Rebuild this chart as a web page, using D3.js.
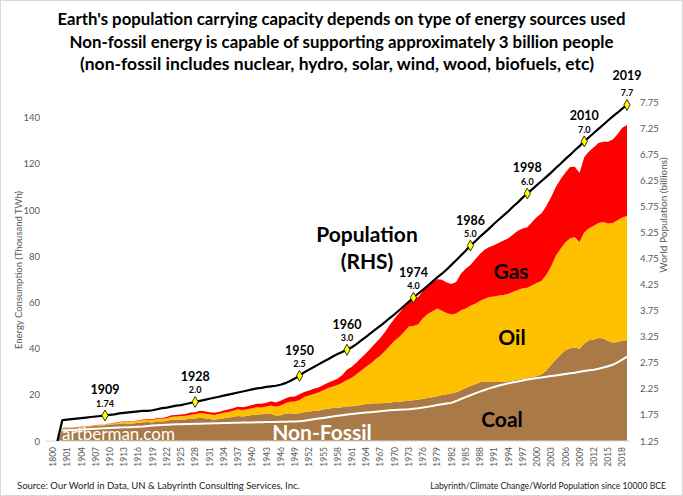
<!DOCTYPE html>
<html lang="en">
<head>
<meta charset="UTF-8">
<title>Population and energy</title>
<script src="https://cdn.jsdelivr.net/npm/d3@7"></script>
<style>
  body { margin: 0; background: #fff; }
  text { font-family: Lato, "Open Sans", sans-serif; }
</style>
</head>
<body>
<script>

// categories: 1800, 1850, then every year 1900-2019
var years = ["1800", "1850"].concat(d3.range(1900, 2020).map(String));

// world population, billions (right axis)
var population = [0.98, 1.26,
    1.65, 1.66, 1.67, 1.68, 1.69, 1.70, 1.71, 1.72, 1.73, 1.74,
    1.75, 1.76, 1.78, 1.79, 1.80, 1.81, 1.82, 1.83, 1.83, 1.84,
    1.86, 1.88, 1.89, 1.91, 1.93, 1.94, 1.96, 1.98, 2.00, 2.02,
    2.04, 2.06, 2.08, 2.10, 2.12, 2.14, 2.16, 2.18, 2.20, 2.22,
    2.24, 2.26, 2.27, 2.29, 2.30, 2.31, 2.33, 2.36, 2.40, 2.45,
    2.50, 2.57, 2.62, 2.67, 2.72, 2.77, 2.82, 2.87, 2.92, 2.96,
    3.00, 3.05, 3.11, 3.18, 3.25, 3.32, 3.39, 3.46, 3.53, 3.61,
    3.68, 3.76, 3.84, 3.92, 4.00, 4.08, 4.15, 4.23, 4.31, 4.39,
    4.46, 4.54, 4.63, 4.72, 4.81, 4.90, 5.00, 5.08, 5.17, 5.25,
    5.33, 5.42, 5.50, 5.58, 5.66, 5.75, 5.83, 5.92, 6.00, 6.08,
    6.16, 6.24, 6.32, 6.40, 6.49, 6.57, 6.66, 6.74, 6.83, 6.91,
    7.00, 7.08, 7.16, 7.24, 7.32, 7.40, 7.48, 7.55, 7.63, 7.70];

// stacked energy levels, thousand TWh (left axis) - top of each band
var nonFossilTop = [0, 0,
    4.6, 4.7, 4.8, 4.9, 5.0, 5.1, 5.2, 5.3, 5.4, 5.5,
    5.6, 5.7, 5.8, 5.9, 6.0, 6.1, 6.2, 6.3, 6.5, 6.7,
    6.8, 6.9, 7.0, 7.1, 7.2, 7.3, 7.4, 7.4, 7.5, 7.5,
    7.6, 7.6, 7.7, 7.7, 7.8, 7.8, 7.9, 7.9, 8.0, 8.0,
    8.0, 8.1, 8.1, 8.2, 8.2, 8.2, 8.3, 8.3, 8.4, 8.4,
    8.5, 8.8, 9.1, 9.4, 9.7, 10.0, 10.3, 10.6, 10.9, 11.2,
    11.5, 11.7, 11.9, 12.1, 12.3, 12.5, 12.7, 12.9, 13.1, 13.3,
    13.4, 13.5, 13.6, 13.7, 14.0, 14.2, 14.5, 14.8, 15.2, 15.6,
    15.9, 16.2, 16.5, 17.3, 18.2, 19.0, 19.8, 20.6, 21.4, 22.1,
    22.8, 23.4, 24.0, 24.5, 25.0, 25.4, 25.8, 26.2, 26.6, 27.0,
    27.3, 27.5, 27.8, 28.1, 28.4, 28.7, 29.0, 29.3, 29.6, 30.0,
    30.3, 30.6, 30.9, 31.3, 31.8, 32.4, 33.0, 34.0, 35.2, 36.5];

var coalTop = [0, 0,
    5.4, 5.5, 5.6, 5.8, 5.9, 6.1, 6.3, 6.6, 6.6, 6.8,
    7.1, 7.2, 7.4, 7.7, 7.5, 7.6, 7.9, 8.1, 8.2, 8.0,
    8.6, 8.4, 8.7, 9.3, 9.2, 9.3, 9.3, 9.7, 9.7, 10.1,
    9.8, 9.5, 9.2, 9.5, 9.9, 10.1, 10.5, 10.8, 10.6, 10.9,
    11.3, 11.5, 11.6, 11.8, 11.7, 11.0, 11.2, 11.8, 12.0, 11.8,
    12.0, 12.6, 12.8, 13.0, 13.2, 13.6, 14.0, 14.3, 14.4, 14.6,
    15.0, 15.0, 15.3, 15.7, 16.0, 16.2, 16.4, 16.4, 16.5, 16.7,
    16.9, 17.0, 17.2, 17.5, 17.6, 17.9, 18.3, 18.6, 18.9, 19.4,
    19.9, 20.2, 20.6, 21.1, 22.0, 23.0, 23.8, 24.6, 25.4, 25.8,
    25.8, 25.6, 25.6, 25.7, 25.9, 26.2, 26.6, 26.9, 27.3, 27.7,
    28.1, 28.9, 30.5, 32.9, 35.3, 37.4, 39.3, 40.2, 40.5, 39.9,
    42.2, 43.6, 44.0, 44.6, 44.4, 43.3, 42.6, 42.9, 43.4, 43.6];

var oilTop = [0, 0,
    5.6, 5.7, 5.8, 6.0, 6.1, 6.3, 6.5, 6.8, 6.9, 7.2,
    7.5, 7.7, 8.0, 8.4, 8.2, 8.4, 8.8, 9.1, 9.2, 9.0,
    9.7, 9.6, 9.9, 10.5, 10.6, 10.8, 10.9, 11.4, 11.6, 12.1,
    11.9, 11.6, 11.3, 11.7, 12.2, 12.6, 13.1, 13.6, 13.4, 13.8,
    14.2, 14.6, 14.5, 14.9, 15.4, 14.8, 15.4, 16.3, 17.0, 17.1,
    17.8, 19.0, 19.7, 20.4, 21.0, 22.0, 23.0, 23.6, 24.2, 25.2,
    26.4, 27.4, 28.9, 30.5, 32.1, 33.6, 35.4, 36.9, 39.0, 41.2,
    43.4, 45.0, 47.2, 49.6, 49.8, 50.6, 53.2, 55.0, 56.2, 57.4,
    56.4, 55.4, 54.8, 55.2, 56.6, 57.4, 58.6, 59.4, 60.6, 61.6,
    62.4, 62.6, 63.0, 63.2, 63.8, 64.6, 65.4, 66.2, 66.4, 67.4,
    68.4, 69.4, 72.0, 75.6, 80.2, 83.2, 86.0, 87.8, 88.2, 86.2,
    90.4, 92.1, 93.2, 94.4, 94.8, 94.2, 94.4, 95.6, 96.8, 97.4];

var gasTop = [0, 0,
    5.7, 5.8, 5.9, 6.1, 6.2, 6.4, 6.6, 6.9, 7.0, 7.3,
    7.6, 7.9, 8.2, 8.6, 8.4, 8.6, 9.0, 9.3, 9.5, 9.3,
    10.1, 10.0, 10.4, 11.1, 11.3, 11.5, 11.7, 12.3, 12.5, 13.1,
    12.9, 12.5, 12.2, 12.6, 13.2, 13.6, 14.2, 14.8, 14.6, 15.1,
    15.6, 16.1, 16.1, 16.6, 17.2, 16.7, 17.4, 18.4, 19.2, 19.3,
    20.2, 21.2, 21.9, 22.6, 23.2, 24.2, 25.2, 26.1, 27.0, 28.6,
    30.8, 32.2, 34.0, 36.0, 38.0, 40.2, 42.4, 44.6, 47.2, 50.2,
    53.0, 55.4, 58.0, 60.0, 61.6, 62.4, 65.0, 67.0, 68.6, 70.0,
    69.8, 68.6, 68.0, 68.8, 72.4, 74.6, 76.2, 78.6, 81.0, 82.8,
    84.0, 84.8, 85.8, 86.8, 87.8, 89.4, 91.0, 92.0, 92.6, 94.8,
    97.0, 98.6, 101.8, 105.6, 110.0, 113.4, 116.2, 118.6, 118.8, 116.2,
    123.0, 125.4, 127.2, 129.0, 129.6, 129.6, 130.6, 132.8, 135.6, 136.8];

// population milestones marked on the line
var milestoneYears = ["1909", "1928", "1950", "1960", "1974", "1986", "1998", "2010", "2019"];
var milestoneLabels = ["1.74", "2.0", "2.5", "3.0", "4.0", "5.0", "6.0", "7.0", "7.7"];

var leftTicks = [0, 20, 40, 60, 80, 100, 120, 140];
var rightTicks = [1.25, 1.75, 2.25, 2.75, 3.25, 3.75, 4.25, 4.75, 5.25, 5.75, 6.25, 6.75, 7.25, 7.75];

var width = 683, height = 496;
var brown = "#a97a47", orange = "#ffc000", red = "#ff0000";

var svg = d3.select("body").append("svg")
    .attr("width", width)
    .attr("height", height);

svg.append("rect")
    .attr("x", 0.5).attr("y", 0.5)
    .attr("width", width - 1).attr("height", height - 1)
    .attr("fill", "#fff").attr("stroke", "#d9d9d9");

var x = d3.scalePoint().domain(years).range([52.8, 627]);
var yL = d3.scaleLinear().domain([0, 140]).range([441, 117.7]);
var yR = d3.scaleLinear().domain([1.25, 7.75]).range([441, 102.3]);

svg.append("clipPath").attr("id", "plot")
    .append("rect").attr("x", 45).attr("y", 60).attr("width", 600).attr("height", 381);

var idx = d3.range(years.length);
function band(lower, upper) {
    return d3.area()
        .x(function (i) { return x(years[i]); })
        .y0(function (i) { return yL(lower ? lower[i] : 0); })
        .y1(function (i) { return yL(upper[i]); })(idx);
}

var g = svg.append("g");
g.append("path").attr("d", band(null, nonFossilTop)).attr("fill", brown);
g.append("path").attr("d", band(nonFossilTop, coalTop)).attr("fill", brown);
g.append("path").attr("d", band(coalTop, oilTop)).attr("fill", orange);
g.append("path").attr("d", band(oilTop, gasTop)).attr("fill", red);

// white edge on top of non-fossil band
g.append("path")
    .attr("d", d3.line()
        .x(function (i) { return x(years[i]); })
        .y(function (i) { return yL(nonFossilTop[i]); })(idx.slice(2)))
    .attr("fill", "none").attr("stroke", "#fff").attr("stroke-width", 2);

// axis base line
svg.append("line")
    .attr("x1", 45).attr("x2", 630).attr("y1", 441).attr("y2", 441)
    .attr("stroke", "#d9d9d9");

// population line
svg.append("path")
    .attr("clip-path", "url(#plot)")
    .attr("d", d3.line()
        .x(function (i) { return x(years[i]); })
        .y(function (i) { return yR(population[i]); })(idx))
    .attr("fill", "none").attr("stroke", "#000").attr("stroke-width", 2.2);

// milestone markers and labels
milestoneYears.forEach(function (yr, k) {
    var px = x(yr), py = yR(population[years.indexOf(yr)]);
    var extra = yr === "2019" ? 4 : 0;
    svg.append("path")
        .attr("d", d3.symbol(d3.symbolDiamond, 34)())
        .attr("transform", "translate(" + px + "," + py + ")")
        .attr("fill", "#ffff00").attr("stroke", "#000").attr("stroke-width", 0.8);
    svg.append("text")
        .attr("x", px).attr("y", py - 21 - extra)
        .attr("text-anchor", "middle")
        .attr("font-size", 12.5).attr("font-weight", "bold")
        .text(yr);
    svg.append("text")
        .attr("x", px).attr("y", py - 8.5)
        .attr("text-anchor", "middle")
        .attr("font-size", 9).attr("font-weight", "bold")
        .text(milestoneLabels[k]);
});

// left axis
var axL = svg.append("g").attr("transform", "translate(42,0)")
    .call(d3.axisLeft(yL).tickValues(leftTicks).tickSize(0).tickPadding(2));
axL.select(".domain").remove();
axL.selectAll("text").attr("font-size", 9.5).attr("fill", "#595959")
    .attr("font-family", "Lato, sans-serif");

// right axis
var axR = svg.append("g").attr("transform", "translate(638,0)")
    .call(d3.axisRight(yR).tickValues(rightTicks).tickFormat(d3.format(".2f")).tickSize(0).tickPadding(2));
axR.select(".domain").remove();
axR.selectAll("text").attr("font-size", 9.5).attr("fill", "#595959")
    .attr("font-family", "Lato, sans-serif");

// bottom axis, every third category
var axB = svg.append("g").attr("transform", "translate(0,441)")
    .call(d3.axisBottom(x).tickValues(years.filter(function (d, i) { return i % 3 === 0; }))
        .tickSize(0).tickPadding(4));
axB.select(".domain").remove();
axB.selectAll("text")
    .attr("font-size", 8.5).attr("fill", "#595959")
    .attr("font-family", "Lato, sans-serif")
    .attr("transform", "rotate(-90)")
    .attr("text-anchor", "end")
    .attr("x", -6).attr("y", 0).attr("dy", "0.32em");

// axis titles
svg.append("text")
    .attr("transform", "translate(22,270) rotate(-90)")
    .attr("text-anchor", "middle").attr("font-size", 9.5).attr("fill", "#595959")
    .text("Energy Consumption (Thousand TWh)");
svg.append("text")
    .attr("transform", "translate(667,215) rotate(-90)")
    .attr("text-anchor", "middle").attr("font-size", 10).attr("fill", "#595959")
    .text("World Population (billions)");

// title
var titleLines = [
    {t: "Earth's population carrying capacity depends on type of energy sources used", y: 25, w: 568},
    {t: "Non-fossil energy is capable of supporting approximately 3 billion people", y: 48, w: 544},
    {t: "(non-fossil includes nuclear, hydro, solar, wind, wood, biofuels, etc)", y: 70, w: 514}
];
titleLines.forEach(function (d) {
    svg.append("text")
        .attr("x", d.y === 70 ? 337 : 341.5).attr("y", d.y)
        .attr("text-anchor", "middle")
        .attr("font-size", 17).attr("font-weight", "bold")
        .attr("textLength", d.w).attr("lengthAdjust", "spacingAndGlyphs")
        .text(d.t);
});

// series labels
function label(txt, px, py, size, fill) {
    svg.append("text").attr("x", px).attr("y", py)
        .attr("text-anchor", "middle")
        .attr("font-size", size).attr("font-weight", "bold")
        .attr("fill", fill)
        .text(txt);
}
label("Population", 367, 242, 21, "#000");
label("(RHS)", 367, 269, 21, "#000");
label("Gas", 511, 279, 21, "#000");
label("Oil", 512, 345, 21, "#000");
label("Coal", 502, 427, 21, "#000");
label("Non-Fossil", 322, 440, 21, "#fff");

svg.append("text")
    .attr("x", 62).attr("y", 440)
    .attr("font-family", "'Liberation Sans', Arial, sans-serif")
    .attr("font-size", 17).attr("fill", "#fff")
    .text("artberman.com");

// footer
svg.append("text")
    .attr("x", 17).attr("y", 489)
    .attr("font-size", 9.5).attr("fill", "#222")
    .text("Source:  Our World in Data, UN  & Labyrinth Consulting Services, Inc.");
svg.append("text")
    .attr("x", 666).attr("y", 489)
    .attr("text-anchor", "end")
    .attr("font-size", 8.6).attr("fill", "#222")
    .text("Labyrinth/Climate Change/World Population since 10000 BCE");

</script>
</body>
</html>
